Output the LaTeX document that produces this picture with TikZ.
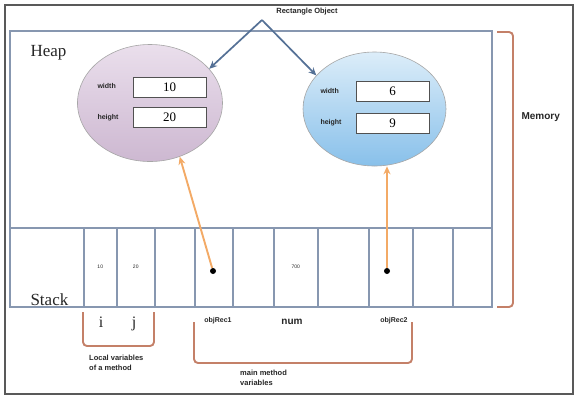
\documentclass[tikz,border=0pt]{standalone}
\usepackage{fontspec}
\setmainfont{Liberation Serif}
\setsansfont{Liberation Sans}
\usetikzlibrary{shapes.geometric,arrows.meta,calc}
\definecolor{frameblue}{HTML}{8797B0}
\definecolor{arrowblue}{HTML}{557196}
\definecolor{orangeA}{HTML}{F3AA66}
\definecolor{brack}{HTML}{C48068}
\definecolor{txt}{HTML}{262626}
\definecolor{lavtop}{HTML}{EADFEC}
\definecolor{lavbot}{HTML}{CDB8D1}
\definecolor{bluetop}{HTML}{DCEDF9}
\definecolor{bluebot}{HTML}{88C0EA}
\tikzset{
  cell/.style={draw=frameblue, line width=1.5pt, minimum height=79pt, inner sep=0pt, anchor=north west, font=\sffamily\fontsize{5}{6}\selectfont, text=txt},
  valbox/.style={draw=txt!80, line width=0.8pt, fill=white, minimum width=73pt, minimum height=20pt, inner sep=0pt, font=\fontsize{13}{14}\selectfont},
  fieldlbl/.style={font=\sffamily\bfseries\fontsize{7}{8}\selectfont, text=txt},
  smalllbl/.style={font=\sffamily\bfseries\fontsize{7}{8}\selectfont, text=txt},
  bluearrow/.style={draw=arrowblue, line width=1.7pt, -{Stealth[length=8pt,width=7pt]}},
  orangearrow/.style={draw=orangeA, line width=1.9pt, -{Stealth[length=8pt,width=7pt]}},
  bracketline/.style={draw=brack, line width=1.9pt, rounded corners=4pt},
  dotstyle/.style={circle, fill=black, inner sep=0pt, minimum size=6pt}
}
\begin{document}
\begin{tikzpicture}[x=1pt,y=-1pt]
\useasboundingbox (0,0) rectangle (580,400);
\fill[white] (0,0) rectangle (580,400);
% outer frame
\node[draw=black!65, line width=2pt, minimum width=568pt, minimum height=389pt, anchor=north west, inner sep=0pt] (outer) at (4,4) {};
% memory box
\node[draw=frameblue, line width=1.8pt, minimum width=482pt, minimum height=276pt, anchor=north west, inner sep=0pt] (mem) at (9,30) {};
% stack cells
\node[cell, minimum width=74pt] (c0) at (9,227) {};
\node[cell, minimum width=33pt] (c1) at (83,227) {10};
\node[cell, minimum width=38pt] (c2) at (116,227) {20};
\node[cell, minimum width=40pt] (c3) at (154,227) {};
\node[cell, minimum width=38pt] (c4) at (194,227) {};
\node[cell, minimum width=41pt] (c5) at (232,227) {};
\node[cell, minimum width=44pt] (c6) at (273,227) {700};
\node[cell, minimum width=51pt] (c7) at (317,227) {};
\node[cell, minimum width=44pt] (c8) at (368,227) {};
\node[cell, minimum width=40pt] (c9) at (412,227) {};
\node[cell, minimum width=39pt] (c10) at (452,227) {};
\node[anchor=base west, font=\fontsize{17}{18}\selectfont, text=txt] (heap) at (27,56) {Heap};
\node[anchor=base west, font=\fontsize{17}{18}\selectfont, text=txt] (stack) at (27,305) {Stack};
% objects
\node[ellipse, draw=black!35, line width=0.6pt, top color=lavtop, bottom color=lavbot, minimum width=145pt, minimum height=117pt] (o1) at (150,103) {};
\node[valbox] (w1) at (169.5,87.5) {10};
\node[valbox] (h1) at (169.5,117.5) {20};
\node[fieldlbl, anchor=base west] (wl1) at (94,88) {width};
\node[fieldlbl, anchor=base west] (hl1) at (94,119) {height};
\node[ellipse, draw=black!35, line width=0.6pt, top color=bluetop, bottom color=bluebot, minimum width=143pt, minimum height=114pt] (o2) at (374.5,109) {};
\node[valbox] (w2) at (392.5,91.5) {6};
\node[valbox] (h2) at (392.5,123.5) {9};
\node[fieldlbl, anchor=base west] (wl2) at (317,93) {width};
\node[fieldlbl, anchor=base west] (hl2) at (317,124) {height};
% label and blue arrows
\node[font=\sffamily\bfseries\fontsize{7.5}{8}\selectfont, text=txt] (rect) at (307,12) {Rectangle Object};
\coordinate (apex) at (262,20);
\draw[bluearrow] (apex) -- (o1.30);
\draw[bluearrow] (apex) -- (o2.150);
% pointers
\node[dotstyle] (d1) at (213,271) {};
\node[dotstyle] (d2) at (387,271) {};
\draw[orangearrow] (d1) -- (o1.-61);
\draw[orangearrow] (d2) -- (d2 |- o2.south);
% labels under stack
\node[anchor=base, font=\fontsize{16}{17}\selectfont, text=txt] (li) at (101,327) {i};
\node[anchor=base, font=\fontsize{16}{17}\selectfont, text=txt] (lj) at (134,327) {j};
\node[smalllbl, anchor=base] (lo1) at (218,322) {objRec1};
\node[font=\sffamily\bfseries\fontsize{10}{11}\selectfont, text=txt, anchor=base] (lnum) at (292,324) {num};
\node[smalllbl, anchor=base] (lo2) at (394,322) {objRec2};
% brackets
\draw[bracketline] (83,312) -- (83,346) -- (154,346) -- (154,312);
\draw[bracketline] (194,322) -- (194,363) -- (412,363) -- (412,322);
\draw[bracketline] (497,32) -- (513,32) -- (513,307) -- (497,307);
\node[font=\sffamily\bfseries\fontsize{10}{11}\selectfont, text=txt, anchor=west] (memlbl) at (518,117) {Memory};
\node[anchor=north west, align=left, inner sep=0pt, text=txt, font=\sffamily\bfseries\fontsize{7.5}{10}\selectfont] (local) at (89,355) {Local variables\\of a method};
\node[anchor=north west, align=left, inner sep=0pt, text=txt, font=\sffamily\bfseries\fontsize{7.5}{10}\selectfont] (mainv) at (240,370) {main method\\variables};
\end{tikzpicture}
\end{document}
